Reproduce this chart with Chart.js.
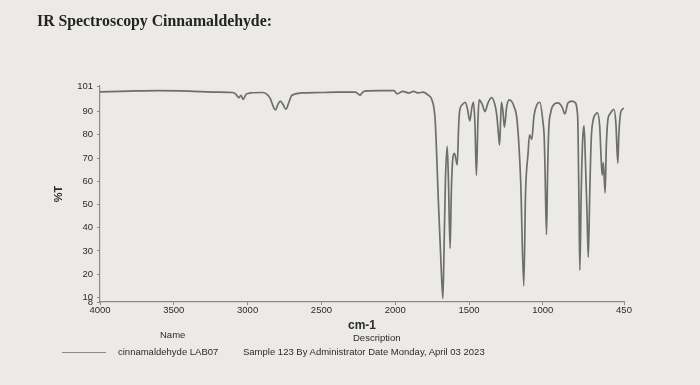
<!DOCTYPE html>
<html>
<head>
<meta charset="utf-8">
<script src="https://cdn.jsdelivr.net/npm/chart.js@4.4.1/dist/chart.umd.min.js"></script>
<style>
  html, body { margin: 0; padding: 0; background: #ebeae6; }
  #wrap { position: relative; width: 700px; height: 385px; background: #ebeae6; overflow: hidden; }
  canvas { position: absolute; left: 0; top: 0; }
  .t { position: absolute; white-space: nowrap; color: #2b2b2b; font-family: "Liberation Sans", Arial, sans-serif; }
  #title { left: 37px; top: 12px; font-family: "Liberation Serif", "DejaVu Serif", serif; font-weight: bold; font-size: 15.8px; color: #232323; }
  #legline { position: absolute; left: 62px; top: 352px; width: 44px; height: 0; border-top: 1.5px solid #8a8a8a; }
</style>
</head>
<body>
<div id="wrap">
  <canvas id="c" width="700" height="385"></canvas>
  <div class="t" id="title">IR Spectroscopy Cinnamaldehyde:</div>
  <div class="t" style="left:160px; top:329px; font-size:9.5px;">Name</div>
  <div class="t" style="left:353px; top:332px; font-size:9.5px;">Description</div>
  <div id="legline"></div>
  <div class="t" style="left:118px; top:346px; font-size:9.5px;">cinnamaldehyde LAB07</div>
  <div class="t" style="left:243px; top:346px; font-size:9.5px;">Sample 123 By Administrator Date Monday, April 03 2023</div>
</div>
<script>
// Wavenumbers (cm-1) of the traced spectrum
const wavenumbers = [
  4000, 3800, 3600, 3400, 3200, 3100, 3080, 3060, 3045, 3030, 3010, 2980, 2900,
  2850, 2825, 2811, 2795, 2778, 2760, 2740, 2720, 2700, 2634, 2500, 2400, 2271,
  2250, 2238, 2225, 2206, 2100, 2008, 1988, 1948, 1909, 1876, 1843, 1810, 1777,
  1751, 1729, 1708, 1690, 1677, 1668, 1660, 1648, 1640, 1628, 1620, 1612, 1598,
  1580, 1570, 1564, 1545, 1525, 1510, 1495, 1480, 1470, 1460, 1450, 1440, 1432,
  1410, 1392, 1370, 1346, 1325, 1313, 1300, 1293, 1285, 1280, 1270, 1260, 1245,
  1227, 1194, 1174, 1150, 1129, 1117, 1100, 1090, 1075, 1060, 1040, 1020, 1000,
  990, 985, 975, 968, 960, 945, 936, 897, 870, 850, 830, 800, 784, 764, 755, 749,
  740, 730, 721, 712, 700, 692, 682, 672, 660, 640, 631, 615, 605, 598, 590, 578,
  570, 560, 545, 532, 519, 505, 492, 485, 473, 460, 450
];
// Transmittance (%T) at each wavenumber
const transmittance = [
  98.5, 98.8, 99.0, 98.8, 98.4, 98.2, 97.5, 96.0, 97.0, 95.2, 97.5, 98.0, 98.2,
  96.0, 92.0, 90.7, 93.0, 94.5, 93.0, 91.0, 94.0, 97.0, 98.0, 98.2, 98.4, 98.4,
  97.5, 97.1, 98.0, 98.8, 99.0, 99.0, 97.6, 98.7, 98.0, 98.7, 98.0, 98.4, 97.1,
  95.0, 86.0, 52.0, 25.0, 9.5, 35.0, 60.0, 75.0, 62.0, 31.0, 55.0, 68.0, 72.0,
  67.0, 84.0, 90.0, 93.0, 94.0, 91.0, 86.0, 92.0, 94.0, 85.0, 62.6, 85.0, 95.0,
  93.0, 90.0, 94.0, 96.0, 93.0, 89.0, 80.0, 75.6, 88.0, 94.0, 90.0, 83.3, 92.0,
  95.0, 92.0, 86.0, 60.0, 15.0, 55.0, 72.0, 80.0, 78.0, 88.0, 93.0, 94.0, 86.0,
  78.0, 65.0, 37.0, 62.0, 82.0, 90.0, 92.0, 93.7, 92.0, 89.0, 93.7, 94.5, 94.0, 88.0, 50.0, 21.7,
  55.0, 78.0, 84.0, 70.0, 45.0, 27.3, 55.0, 78.0, 86.0, 89.0, 89.4, 84.0, 70.0, 62.6, 68.0, 55.0,
  75.0, 86.0, 89.0, 90.2, 91.0, 85.0, 67.8, 80.0, 89.4, 91.0, 91.5
];
const xTickValues = [4000, 3500, 3000, 2500, 2000, 1500, 1000, 450];
const yTickValues = [8, 10, 20, 30, 40, 50, 60, 70, 80, 90, 101];
const seriesName = "cinnamaldehyde LAB07";

const points = wavenumbers.map((w, i) => ({ x: w, y: transmittance[i] }));
const tickFont = { family: "Liberation Sans, Arial, sans-serif", size: 9.5 };

new Chart(document.getElementById('c'), {
  type: 'line',
  data: {
    datasets: [{
      label: seriesName,
      data: points,
      borderColor: '#6e6e6e',
      borderWidth: 1.7,
      pointRadius: 0,
      cubicInterpolationMode: 'monotone',
      fill: false
    }]
  },
  options: {
    responsive: false,
    animation: false,
    devicePixelRatio: 1,
    layout: { padding: { left: 40, right: 76, top: 86, bottom: 52 } },
    plugins: { legend: { display: false }, tooltip: { enabled: false } },
    scales: {
      x: {
        type: 'linear',
        reverse: true,
        min: 450,
        max: 4000,
        afterBuildTicks: (axis) => { axis.ticks = xTickValues.map(v => ({ value: v })); },
        afterFit: (axis) => { axis.height = 31; },
        grid: { display: true, drawOnChartArea: false, tickLength: 3, color: '#8a8a8a' },
        border: { display: true, color: '#8a8a8a', width: 1.2 },
        ticks: { font: tickFont, color: '#2b2b2b', padding: 0, maxRotation: 0, autoSkip: false, callback: (v) => String(v) },
        title: { display: true, text: 'cm-1', font: { family: "Liberation Sans, Arial, sans-serif", size: 12, weight: 'bold' }, color: '#2b2b2b', padding: { top: 0, bottom: 0 } }
      },
      y: {
        type: 'linear',
        min: 8,
        max: 101,
        afterBuildTicks: (axis) => { axis.ticks = yTickValues.map(v => ({ value: v })); },
        afterFit: (axis) => { axis.width = 60; },
        grid: { display: true, drawOnChartArea: false, tickLength: 3, color: '#8a8a8a' },
        border: { display: true, color: '#8a8a8a', width: 1.2 },
        ticks: { font: tickFont, color: '#2b2b2b', padding: 4, autoSkip: false, callback: (v) => String(v) },
        title: { display: true, text: '%T', font: { family: "Liberation Sans, Arial, sans-serif", size: 11, weight: 'bold' }, color: '#2b2b2b', padding: { top: 12, bottom: 0 } }
      }
    }
  }
});
</script>
</body>
</html>
